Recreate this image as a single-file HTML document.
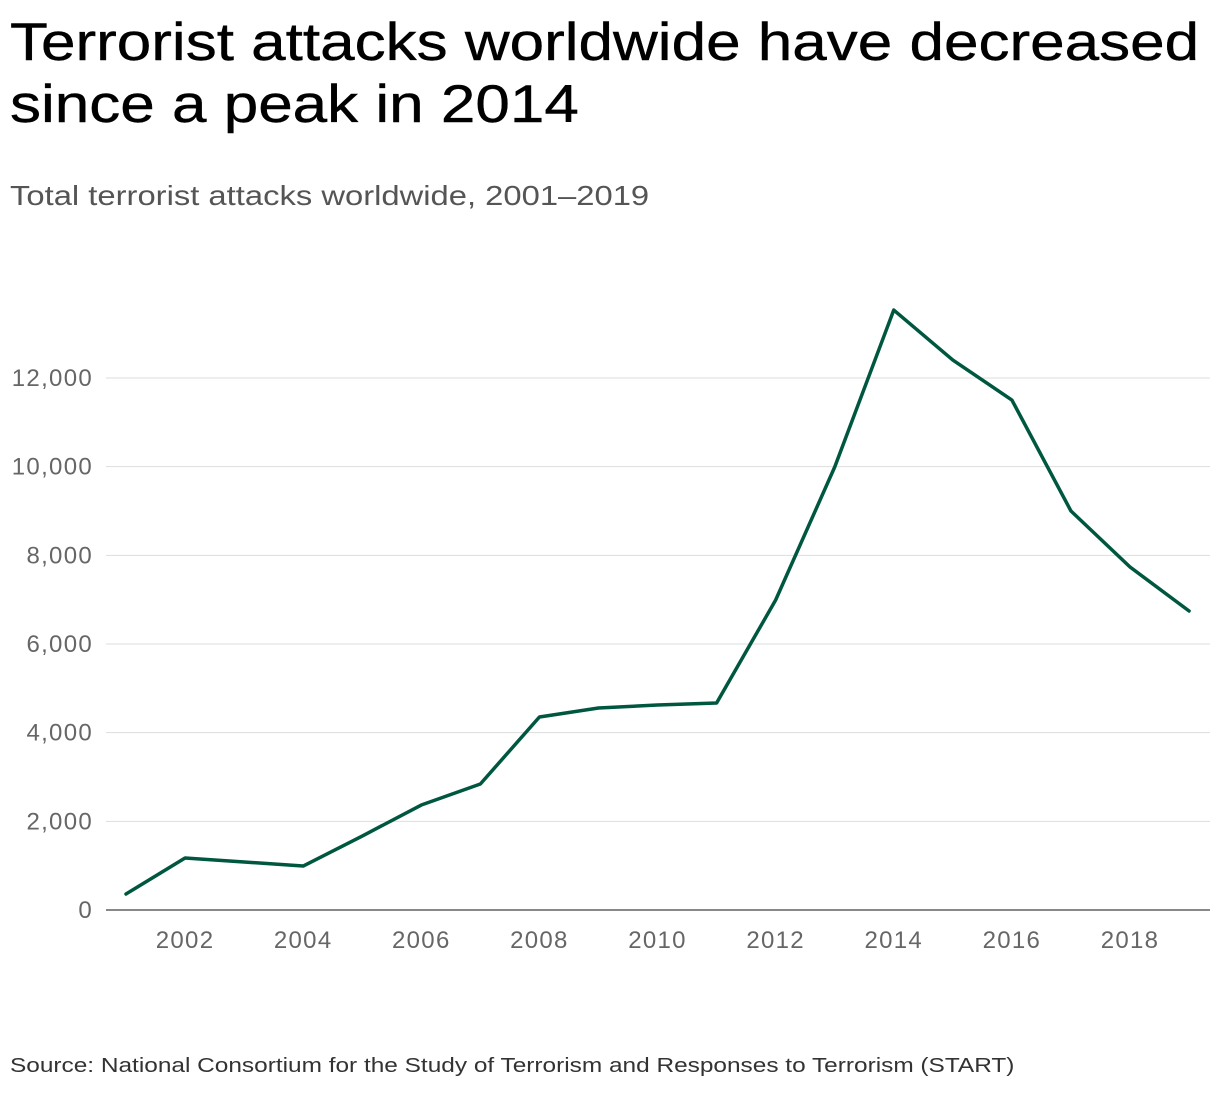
<!DOCTYPE html>
<html><head><meta charset="utf-8"><style>
body{margin:0;background:#fff;width:1220px;height:1096px;overflow:hidden;font-family:"Liberation Sans",sans-serif}
h1{position:absolute;left:10px;top:12px;margin:0;font-size:53px;line-height:62px;font-weight:400;color:#000;transform:scaleX(1.17);transform-origin:left top;white-space:nowrap;-webkit-text-stroke:0.4px #000}
.sub{position:absolute;left:10px;top:180px;font-size:28px;color:#555;transform:scaleX(1.17);transform-origin:left top;white-space:nowrap}
.src{position:absolute;left:10px;top:1055px;font-size:20px;color:#333;transform:scaleX(1.22);transform-origin:left top;white-space:nowrap}
svg{position:absolute;left:0;top:0}
svg text{letter-spacing:1.3px}
</style></head><body>
<h1>Terrorist attacks worldwide have decreased<br>since a peak in 2014</h1>
<div class="sub">Total terrorist attacks worldwide, 2001–2019</div>
<svg id="c" width="1220" height="1096"></svg>
<div class="src">Source: National Consortium for the Study of Terrorism and Responses to Terrorism (START)</div>
<script>
const years=[2001,2002,2003,2004,2005,2006,2007,2008,2009,2010,2011,2012,2013,2014,2015,2016,2017,2018,2019];
const attacks=[361,1173,1083,992,1669,2368,2842,4353,4556,4624,4669,6992,9992,13533,12405,11503,9000,7737,6744];
const yTicks=[0,2000,4000,6000,8000,10000,12000];
const xTicks=[2002,2004,2006,2008,2010,2012,2014,2016,2018];
const ns="http://www.w3.org/2000/svg",svg=document.getElementById('c');
const x=v=>126+(v-2001)*59.06, y=v=>910-v*532/12000;
function mk(t,a){const e=document.createElementNS(ns,t);for(const k in a)e.setAttribute(k,a[k]);svg.appendChild(e);return e;}
yTicks.forEach(t=>{
 const l=mk('line',{x1:106,x2:1210,y1:y(t),y2:y(t),stroke:t===0?'#888':'#ddd','stroke-width':t===0?2:1});
 
 
 const tx=mk('text',{x:93,y:y(t)+8,'text-anchor':'end','font-size':24,fill:'#666'});tx.textContent=t.toLocaleString('en-US');
 
 
});
xTicks.forEach(t=>{
 const tx=mk('text',{x:x(t),y:948,'text-anchor':'middle','font-size':24,fill:'#666'});tx.textContent=t;
 
 
});
const p=mk('polyline',{points:years.map((yr,i)=>x(yr)+','+y(attacks[i])).join(' '),fill:'none',stroke:'#00573f','stroke-width':3.5,'stroke-linejoin':'round','stroke-linecap':'round'});


</script>
</body></html>
